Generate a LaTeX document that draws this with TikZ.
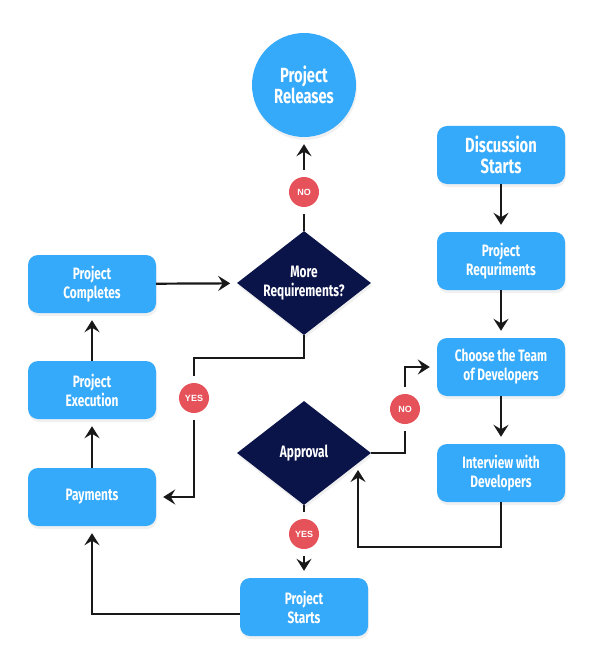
\documentclass[tikz,border=0pt]{standalone}
\usepackage{fontspec}
\setmainfont{Fira Sans}[FakeStretch=0.72]
\newfontfamily\badgefont{Liberation Sans}
\usepackage{tikz}
\usetikzlibrary{shapes.geometric,arrows.meta,shadows}
\definecolor{boxblue}{HTML}{35A9FA}
\definecolor{navy}{HTML}{0B1449}
\definecolor{badgered}{HTML}{E6525A}

\begin{document}
\begin{tikzpicture}[x=1pt,y=-1pt,
  box/.style={draw=none,fill=boxblue,rounded corners=10pt,minimum width=128pt,minimum height=58pt,
    text=white,align=center,font=\fontsize{16.5}{19}\selectfont\bfseries,
    drop shadow={opacity=0.12,shadow xshift=1pt,shadow yshift=-3pt}},
  bigtext/.style={font=\fontsize{20.5}{21}\selectfont\bfseries},
  decision/.style={diamond,aspect=1.3,fill=navy,minimum width=134pt,minimum height=104pt,inner sep=0pt,
    text=white,align=center,font=\fontsize{16.5}{19}\selectfont\bfseries,
    drop shadow={opacity=0.12,shadow xshift=1pt,shadow yshift=-3pt}},
  badge/.style={circle,fill=badgered,minimum size=30pt,inner sep=0pt,outer sep=7pt,
    text=white,font=\badgefont\fontsize{9}{9}\selectfont\bfseries},
  link/.style={line width=2.2pt,black!90},
  flow/.style={link,-{Stealth[length=12pt,width=15pt,inset=4.5pt]},shorten >=7pt}]
\useasboundingbox (0,0) rectangle (594,671);

\node[circle,fill=boxblue,minimum size=104pt,inner sep=0pt,text=white,align=center,bigtext,
  drop shadow={opacity=0.12,shadow xshift=1pt,shadow yshift=-3pt}] (rel) at (304,85) {Project\\Releases};
\node[decision] (more) at (304,283) {More\\Requirements?};
\node[decision] (appr) at (304,453) {Approval};

\node[box] (done) at (92,284) {Project\\Completes};
\node[box] (exec) at (92,390) {Project\\Execution};
\node[box] (pay) at (92,497) {Payments};

\node[box,bigtext] (disc) at (501,155) {Discussion\\Starts};
\node[box] (req) at (501,261) {Project\\Requriments};
\node[box] (team) at (501,367) {Choose the Team\\of Developers};
\node[box] (intv) at (501,473) {Interview with\\Developers};

\node[box] (start) at (304,607) {Project\\Starts};

\node[badge] (no1) at (304,192) {NO};
\node[badge] (yes1) at (194,398) {YES};
\node[badge] (no2) at (405,409) {NO};
\node[badge] (yes2) at (304,534) {YES};
\coordinate (back) at (358,470);

\draw[link] (more.north) -- (no1);
\draw[flow] (no1) -- (rel);
\draw[flow] (done) -- (more);
\draw[link] (more.south) -- ++(0,23) -| (yes1);
\draw[flow] (yes1) |- (pay.east);
\draw[flow] (pay) -- (exec);
\draw[flow] (exec) -- (done);

\draw[flow] (disc) -- (req);
\draw[flow] (req) -- (team);
\draw[flow] (team) -- (intv);
\draw[flow,shorten >=0pt] (intv.south) -- ++(0,45) -| (back);

\draw[link] (appr.east) -| (no2);
\draw[flow] (no2) |- (team.west);
\draw[link] (appr.south) -- (yes2);
\draw[flow] (yes2) -- (start);
\draw[flow] ([yshift=-7pt]start.west) -| (pay.south);
\end{tikzpicture}
\end{document}
